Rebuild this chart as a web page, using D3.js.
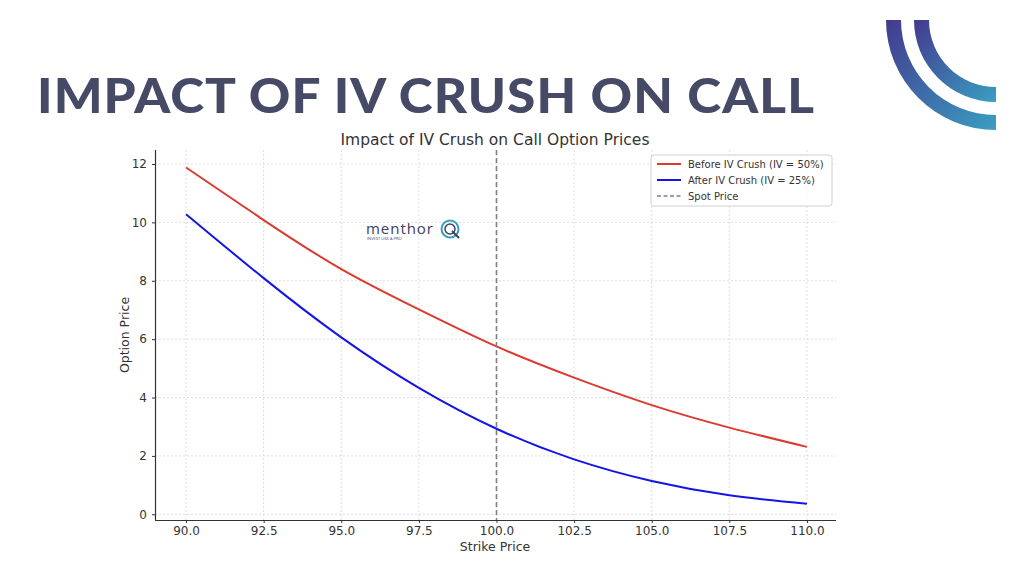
<!DOCTYPE html>
<html lang="en">
<head>
  <meta charset="UTF-8">
  <title>Impact of IV Crush on Call</title>
  <script src="https://d3js.org/d3.v7.min.js"></script>
  <style>
    html, body { margin: 0; padding: 0; background: #fff; }
    svg { display: block; }
    .tick text { font-family: "DejaVu Sans", sans-serif; font-size: 12px; fill: #333; }
  </style>
</head>
<body>
  <script>
    // Data
    const strikes = [90, 92.5, 95, 97.5, 100, 102.5, 105, 107.5, 110];
    const beforeCrush = [11.88, 10.08, 8.40, 7.02, 5.75, 4.68, 3.74, 2.97, 2.31];
    const afterCrush = [10.28, 8.09, 6.06, 4.33, 2.93, 1.88, 1.14, 0.65, 0.36];
    const spotPrice = 100;
    const xTicks = [90, 92.5, 95, 97.5, 100, 102.5, 105, 107.5, 110];
    const yTicks = [0, 2, 4, 6, 8, 10, 12];
    const seriesNames = ['Before IV Crush (IV = 50%)', 'After IV Crush (IV = 25%)', 'Spot Price'];

    const width = 1024, height = 574;
    const plot = { left: 155, right: 836, top: 150, bottom: 520 };

    const svg = d3.select('body').append('svg')
      .attr('width', width)
      .attr('height', height);

    // Logo gradient
    const defs = svg.append('defs');
    const grad = defs.append('linearGradient')
      .attr('id', 'logoGrad')
      .attr('x1', '0%').attr('y1', '0%').attr('x2', '100%').attr('y2', '100%');
    grad.append('stop').attr('offset', '0%').attr('stop-color', '#433a8e');
    grad.append('stop').attr('offset', '100%').attr('stop-color', '#3a9ec2');

    // Big heading
    svg.append('text')
      .attr('x', 37)
      .attr('y', 113)
      .attr('textLength', 778)
      .attr('lengthAdjust', 'spacingAndGlyphs')
      .style('font-family', 'Lato, "Open Sans", sans-serif')
      .style('font-weight', 900)
      .style('font-size', '48px')
      .style('letter-spacing', '1px')
      .style('fill', '#464a66')
      .text('IMPACT OF IV CRUSH ON CALL');

    // Corner logo: two quarter arcs around (996, 20)
    const arc = d3.arc();
    [[95, 110], [67, 82]].forEach(([r0, r1]) => {
      svg.append('path')
        .attr('transform', 'translate(996,20)')
        .attr('d', arc({ innerRadius: r0, outerRadius: r1, startAngle: Math.PI, endAngle: Math.PI * 1.5 }))
        .style('fill', 'url(#logoGrad)');
    });

    const x = d3.scaleLinear().domain([89, 111]).range([155, 838]);
    const y = d3.scaleLinear().domain([-0.23, 12.48]).range([521, plot.top]);

    // Grid
    const grid = svg.append('g');
    grid.selectAll('.gx').data(xTicks).join('line')
      .attr('x1', d => x(d)).attr('x2', d => x(d))
      .attr('y1', plot.top).attr('y2', plot.bottom)
      .style('stroke', '#d4d4d4').style('stroke-width', 0.8).style('stroke-dasharray', '2,2');
    grid.selectAll('.gy').data(yTicks).join('line')
      .attr('x1', plot.left).attr('x2', plot.right)
      .attr('y1', d => y(d)).attr('y2', d => y(d))
      .style('stroke', '#d4d4d4').style('stroke-width', 0.8).style('stroke-dasharray', '2,2');

    // Watermark
    const wm = svg.append('g').attr('transform', 'translate(366,234)');
    wm.append('text')
      .attr('x', 0).attr('y', 0)
      .attr('textLength', 67)
      .style('font-family', '"Open Sans", sans-serif')
      .style('font-size', '15px')
      .style('font-weight', 500)
      .style('fill', '#3d405e')
      .text('menthor');
    wm.append('text')
      .attr('x', 1).attr('y', 6)
      .style('font-family', '"Open Sans", sans-serif')
      .style('font-size', '4px')
      .style('fill', '#3d405e')
      .text('INVEST LIKE A PRO');
    wm.append('circle').attr('cx', 84).attr('cy', -5).attr('r', 8.5)
      .style('fill', 'none').style('stroke', '#3a9ec2').style('stroke-width', 2);
    wm.append('circle').attr('cx', 84).attr('cy', -5).attr('r', 5)
      .style('fill', 'none').style('stroke', '#3d405e').style('stroke-width', 1.5);
    wm.append('line').attr('x1', 86).attr('y1', -3).attr('x2', 93).attr('y2', 4)
      .style('stroke', '#3d405e').style('stroke-width', 2);

    // Lines
    const line = d3.line()
      .x((d, i) => x(strikes[i]))
      .y(d => y(d))
      .curve(d3.curveNatural);

    svg.append('path').datum(beforeCrush)
      .attr('d', line)
      .style('fill', 'none').style('stroke', '#dc3a2e').style('stroke-width', 2);
    svg.append('path').datum(afterCrush)
      .attr('d', line)
      .style('fill', 'none').style('stroke', '#1414e6').style('stroke-width', 2);

    // Spot price line
    svg.append('line')
      .attr('x1', x(spotPrice)).attr('x2', x(spotPrice))
      .attr('y1', plot.top).attr('y2', plot.bottom)
      .style('stroke', '#808080').style('stroke-width', 1.6).style('stroke-dasharray', '5,3');

    // Axes
    const xAxis = svg.append('g')
      .attr('transform', `translate(0,${plot.bottom})`)
      .call(d3.axisBottom(x).tickValues(xTicks).tickFormat(d3.format('.1f')).tickSizeOuter(0).tickSize(3).tickPadding(3));
    const yAxis = svg.append('g')
      .attr('transform', `translate(${plot.left},0)`)
      .call(d3.axisLeft(y).tickValues(yTicks).tickFormat(d3.format('d')).tickSizeOuter(0).tickSize(3).tickPadding(5));
    xAxis.select('.domain').attr('d', `M${plot.left},0.5H${plot.right}`);
    yAxis.select('.domain').attr('d', `M0.5,${plot.top}V${plot.bottom}`);
    [xAxis, yAxis].forEach(a => {
      a.select('.domain').style('stroke', '#333').style('stroke-width', 1.2);
      a.selectAll('.tick line').style('stroke', '#333');
    });

    // Titles
    svg.append('text')
      .attr('x', 495)
      .attr('y', 145)
      .attr('text-anchor', 'middle')
      .style('font-family', '"DejaVu Sans", sans-serif')
      .style('font-size', '15.5px')
      .style('fill', '#333')
      .text('Impact of IV Crush on Call Option Prices');

    svg.append('text')
      .attr('x', 495)
      .attr('y', 551)
      .attr('text-anchor', 'middle')
      .style('font-family', '"DejaVu Sans", sans-serif')
      .style('font-size', '12.5px')
      .style('fill', '#333')
      .text('Strike Price');

    svg.append('text')
      .attr('transform', `translate(129,${(plot.top + plot.bottom) / 2}) rotate(-90)`)
      .attr('text-anchor', 'middle')
      .style('font-family', '"DejaVu Sans", sans-serif')
      .style('font-size', '12.5px')
      .style('fill', '#333')
      .text('Option Price');

    // Legend
    const legend = svg.append('g').attr('transform', 'translate(651,155)');
    legend.append('rect')
      .attr('width', 181).attr('height', 51).attr('rx', 3)
      .style('fill', '#fff').style('fill-opacity', 0.85)
      .style('stroke', '#d0d0d0').style('stroke-width', 1);
    const legendStyles = [
      { color: '#dc3a2e', dash: null, w: 2 },
      { color: '#1414e6', dash: null, w: 2 },
      { color: '#808080', dash: '4,2.5', w: 1.6 }
    ];
    seriesNames.forEach((name, i) => {
      const ly = 9 + i * 16;
      legend.append('line')
        .attr('x1', 6).attr('x2', 30).attr('y1', ly).attr('y2', ly)
        .style('stroke', legendStyles[i].color)
        .style('stroke-width', legendStyles[i].w)
        .style('stroke-dasharray', legendStyles[i].dash);
      legend.append('text')
        .attr('x', 37).attr('y', ly + 4)
        .style('font-family', '"DejaVu Sans", sans-serif')
        .style('font-size', '10px')
        .style('fill', '#333')
        .text(name);
    });
  </script>
</body>
</html>
